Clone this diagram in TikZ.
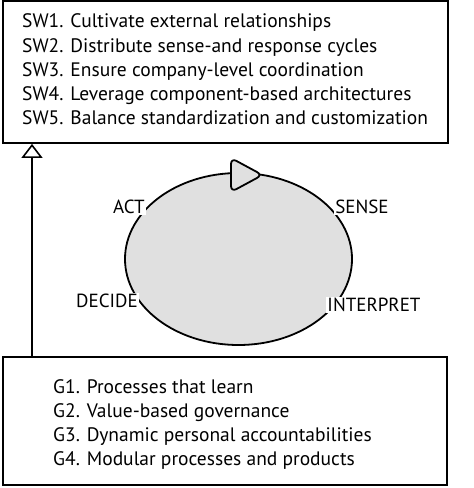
\documentclass[tikz,border=0pt]{standalone}
\usepackage{fontspec}
\setmainfont{PT Sans}
\usetikzlibrary{arrows.meta,shapes.geometric}
\tikzset{
  frame/.style={draw=black, line width=1.8pt, fill=white, inner sep=0pt},
  listtext/.style={anchor=west, align=left, inner sep=0pt, font=\fontsize{19.5}{24.3}\selectfont},
  cyclabel/.style={fill=white, inner sep=1.5pt, font=\fontsize{19}{20}\selectfont},
}
\begin{document}
\begin{tikzpicture}[x=1pt,y=-1pt]
\useasboundingbox (0,0) rectangle (474,488);
\node[frame, minimum width=445pt, minimum height=142pt] (top) at (225.5,72) {};
\node[frame, minimum width=444pt, minimum height=128pt] (bot) at (225,421) {};
\node[listtext] (toptext) at (22,69.5) {SW1. Cultivate external relationships\\SW2. Distribute sense-and response cycles\\SW3. Ensure company-level coordination\\SW4. Leverage component-based architectures\\SW5. Balance standardization and customization};
\node[listtext] (bottext) at (53,424.5) {G1. Processes that learn\\G2. Value-based governance\\G3. Dynamic personal accountabilities\\G4. Modular processes and products};
\coordinate (ax) at (32,0);
\draw[line width=1.6pt, -{Triangle[open, length=14pt, width=21pt, line width=1.6pt]}] (bot.north -| ax) -- (top.south -| ax);
\node[draw=black, line width=1.8pt, fill=black!12, ellipse, minimum width=227pt, minimum height=172pt, inner sep=0pt] (cyc) at (238.5,259) {};
\draw[line width=1.8pt, fill=black!12, rounded corners=6pt, line join=round] (231,158) -- (262.5,175) -- (231,192) -- cycle;
\node[cyclabel] (act) at (129,207) {ACT};
\node[cyclabel] (sense) at (362,207) {SENSE};
\node[cyclabel] (decide) at (107,301) {DECIDE};
\node[cyclabel] (interp) at (374,305) {INTERPRET};
\end{tikzpicture}
\end{document}
